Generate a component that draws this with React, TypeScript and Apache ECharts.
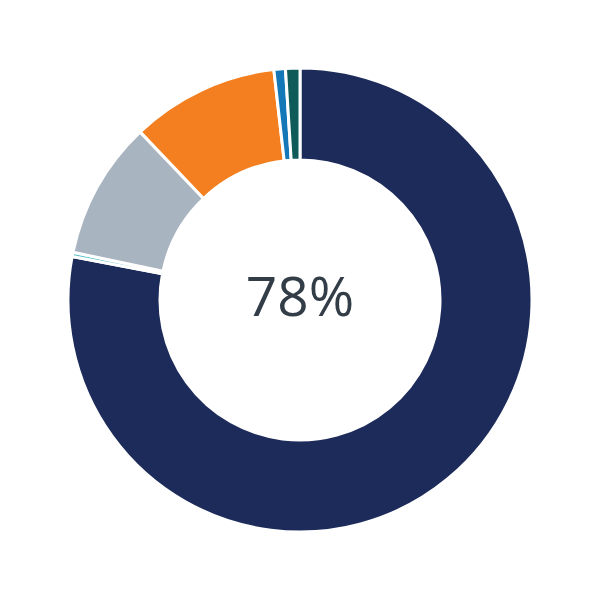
import React, { useEffect, useRef } from "react";
import * as echarts from "echarts";

const categories = ["Navy", "Light teal", "Gray", "Orange", "Blue", "Dark teal"];
const values = [78, 0.3, 9.6, 10.3, 0.8, 1.0];
const colors = ["#1c2b5a", "#5fc3c9", "#a9b4c1", "#f37f20", "#1477b7", "#0f5b59"];
const centerLabel = "78%";

export default function App() {
  const ref = useRef<HTMLDivElement>(null);
  useEffect(() => {
    const chart = echarts.init(ref.current!, null, { renderer: "svg" });
    chart.setOption({
      animation: false,
      title: {
        text: centerLabel,
        left: "center",
        top: 262,
        textStyle: {
          fontFamily: "Open Sans",
          fontSize: 55,
          fontWeight: "normal",
          color: "#333d48",
        },
      },
      series: [
        {
          type: "pie",
          center: [300, 300],
          radius: [140, 232],
          startAngle: 90,
          clockwise: true,
          label: { show: false },
          labelLine: { show: false },
          emphasis: { disabled: true },
          itemStyle: { borderColor: "#ffffff", borderWidth: 3 },
          data: categories.map((name, i) => ({
            name,
            value: values[i],
            itemStyle: { color: colors[i] },
          })),
        },
      ],
    });
    return () => chart.dispose();
  }, []);
  return (
    <div
      ref={ref}
      style={{ position: "fixed", left: 0, top: 0, width: 600, height: 600, background: "#fff" }}
    />
  );
}
